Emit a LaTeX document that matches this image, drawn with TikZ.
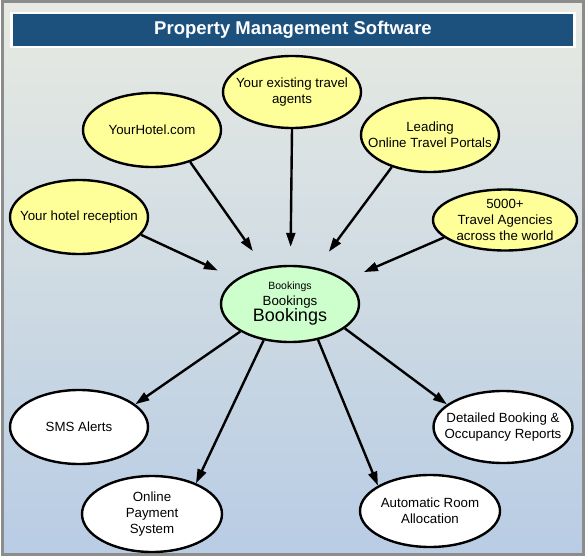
\documentclass[tikz,border=0pt]{standalone}
\usepackage{fontspec}
\setmainfont{Liberation Sans}
\usepackage{xcolor}
\usetikzlibrary{shapes.geometric,arrows.meta,positioning}

\definecolor{bgtop}{RGB}{231,234,226}
\definecolor{bgbot}{RGB}{184,204,228}
\definecolor{barblue}{RGB}{28,80,125}
\definecolor{srcyellow}{RGB}{255,255,153}
\definecolor{hubgreen}{RGB}{204,255,204}

\begin{document}
\begin{tikzpicture}[
    x=1pt, y=-1pt,
    title/.style={rectangle, draw=white, line width=2.5pt, fill=barblue,
                  text=white, minimum width=563pt, minimum height=34pt,
                  font=\fontsize{18.5}{22}\selectfont\bfseries},
    src/.style={ellipse, draw, line width=2.4pt, fill=srcyellow,
                minimum width=138pt, minimum height=74pt,
                inner xsep=-60pt, inner ysep=-25pt, align=center,
                font=\fontsize{13.3}{16}\selectfont},
    dst/.style={src, fill=white},
    hub/.style={src, fill=hubgreen, minimum height=76pt},
    flow/.style={line width=2.4pt, -{Triangle[length=14pt,width=9pt]}},
  ]
  \useasboundingbox (0,0) rectangle (586,559);

  % Frame and title
  \draw[line width=3pt, draw=black!45, top color=bgtop, bottom color=bgbot]
    (2,2) rectangle (583,554);
  \node[title] (ttl) at (293,30) {Property Management Software};

  % Hub
  \node[hub] (bk) at (290,304) {\fontsize{10.5}{15}\selectfont Bookings\\
    \fontsize{13.3}{15}\selectfont Bookings\\
    \fontsize{18}{21}\selectfont Bookings};

  % Sources (y positions)
  \node[src] (rec) at (79,217) {Your hotel reception};
  \node[src] (web) at (152,130) {YourHotel.com};
  \node[src, minimum height=72pt] (agt) at (292,92) {Your existing travel\\agents};
  \node[src] (otp) at (430,135) {Leading\\Online Travel Portals};
  \node[src, minimum width=144pt, minimum height=61pt] (ta) at (505,220)
    {5000+\\Travel Agencies\\across the world};

  % Outputs
  \node[dst] (sms) at (79,427) {SMS Alerts};
  \node[dst, minimum width=140pt, minimum height=76pt] (pay) at (152,514)
    {Online\\Payment\\System};
  \node[dst, minimum width=140pt, minimum height=72pt] (room) at (430,511)
    {Automatic Room\\Allocation};
  \node[dst, minimum width=139pt, minimum height=72pt] (rep) at (503,427)
    {Detailed Booking \&\\Occupancy Reports};

  % Sources -> Hub
  \draw[flow, shorten >=20pt] (rec.344) -- (bk);
  \draw[flow, shorten >=20pt] (web.320) -- (bk);
  \draw[flow, shorten >=18pt] (agt.south) -- (bk);
  \draw[flow, shorten >=20pt] (otp.220) -- (bk);
  \draw[flow, shorten >=20pt] (ta.196) -- (bk);

  % Hub -> Outputs
  \draw[flow] (bk.209) -- (sms.22);
  \draw[flow] (bk.234) -- (pay.35);
  \draw[flow] (bk.308) -- (room.154);
  \draw[flow] (bk.336) -- (rep.158);
\end{tikzpicture}
\end{document}
